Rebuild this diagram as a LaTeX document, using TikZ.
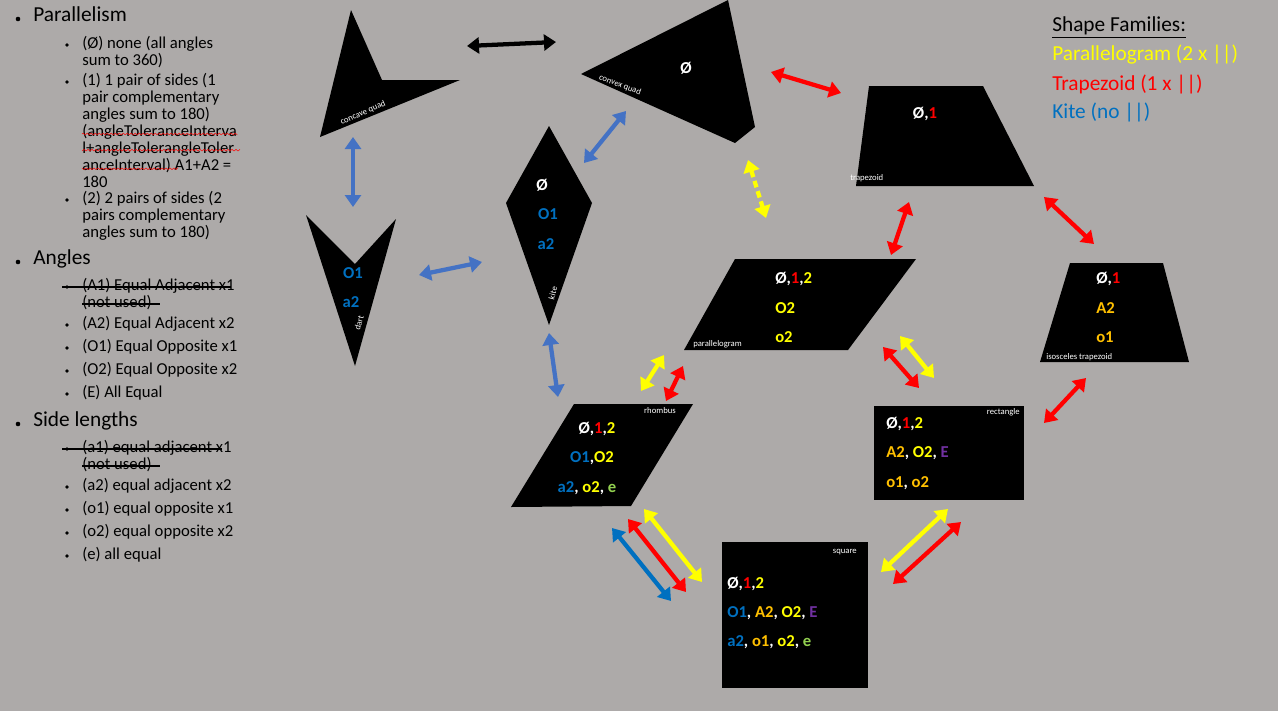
\documentclass[tikz,border=0pt]{standalone}
\usepackage{fontspec}
\setmainfont{Carlito}
\usetikzlibrary{arrows.meta,decorations.pathmorphing}
\definecolor{bg}{HTML}{ADAAA9}
\definecolor{cR}{HTML}{FF0000}
\definecolor{cY}{HTML}{FFFF00}
\definecolor{cB}{HTML}{0070C0}
\definecolor{cO}{HTML}{FFC000}
\definecolor{cP}{HTML}{7030A0}
\definecolor{cG}{HTML}{92D050}
\definecolor{aB}{HTML}{4472C4}
\tikzset{
  dbl/.style={line width=3.2pt,{Triangle[length=9pt,width=12pt]}-{Triangle[length=9pt,width=12pt]}},
  shp/.style={fill=black},
  lbl/.style={text=white,font=\fontsize{12.5}{14}\bfseries\selectfont,inner sep=0pt},
  tiny/.style={text=white,font=\fontsize{6.5}{7}\selectfont,inner sep=0pt},
  lst/.style={anchor=north west,align=left,inner sep=0pt,font=\fontsize{12.5}{12.75}\selectfont},
  head/.style={anchor=north west,inner sep=0pt,font=\fontsize{16}{18}\selectfont},
  leg/.style={anchor=west,inner sep=0pt,font=\fontsize{16}{18}\selectfont}
}
\begin{document}
\begin{tikzpicture}[x=0.75pt,y=-0.75pt]
\fill[bg] (0,0) rectangle (1278,711);
\useasboundingbox (0,0) rectangle (1278,711);
% left list
\node[head] (h1) at (33,6) {Parallelism};
\node[head] (h2) at (33,249) {Angles};
\node[head] (h3) at (33,411) {Side lengths};
\foreach \y in {9,252,414}{\fill (18,\y+10) circle (2.3);}
\node[lst] (p1) at (82,36) {(Ø) none (all angles\\sum to 360)};
\node[lst] (p2) at (82,73) {(1) 1 pair of sides (1\\pair complementary\\angles sum to 180)\\(angleToleranceInterva\\l+angleTolerangleToler\\anceInterval) A1+A2 =\\180};
\node[lst] (p3) at (82,191) {(2) 2 pairs of sides (2\\pairs complementary\\angles sum to 180)};
\draw[cR,decorate,decoration={snake,amplitude=0.6pt,segment length=3pt}] (82,134)--(237,134) (82,151)--(240,151) (82,168)--(178,168);
\node[lst] (q1) at (82,278) {(A1) Equal Adjacent x1\\(not used)};
\node[lst] (q2) at (82,316) {(A2) Equal Adjacent x2};
\node[lst] (q3) at (82,339) {(O1) Equal Opposite x1};
\node[lst] (q4) at (82,362) {(O2) Equal Opposite x2};
\node[lst] (q5) at (82,385) {(E) All Equal};
\node[lst] (r1) at (82,440) {(a1) equal adjacent x1\\(not used)};
\node[lst] (r2) at (82,478) {(a2) equal adjacent x2};
\node[lst] (r3) at (82,501) {(o1) equal opposite x1};
\node[lst] (r4) at (82,524) {(o2) equal opposite x2};
\node[lst] (r5) at (82,547) {(e) all equal};
\draw[line width=0.8pt] (62,287)--(231,287) (82,304)--(160,304) (62,449)--(222,449) (82,466)--(160,466);
\foreach \y in {45,82,200,287,325,348,371,394,449,487,510,533,556}{\fill (67,\y) circle (1.9);}
% legend
\node[leg] (l0) at (1052,26) {Shape Families:};
\draw[line width=0.8pt] (l0.south west)++(0,2)--([yshift=-1.5pt]l0.south east);
\node[leg,text=cY] (l1) at (1052,55) {Parallelogram (2 x ||)};
\node[leg,text=cR] (l2) at (1052,84) {Trapezoid (1 x ||)};
\node[leg,text=cB] (l3) at (1052,112) {Kite (no ||)};
% shapes
\fill[shp] (351,10)--(382,80)--(460,80)--(320,137)--cycle;
\node[tiny,rotate=24] (concave) at (363,113) {concave quad};
\fill[shp] (581,74)--(728,0)--(755,127)--(735,143)--cycle;
\node[lbl] (cvx) at (686,68) {Ø};
\node[tiny,rotate=-21] (convex) at (620,85) {convex quad};
\fill[shp] (306,215)--(355,264)--(396,219)--(355,366)--cycle;
\node[lbl,text=cB] (dO) at (353,273) {O1};
\node[lbl,text=cB] (da) at (351,302) {a2};
\node[tiny,rotate=75] (dart) at (359,323) {dart};
\fill[shp] (549,126)--(592,203)--(549,325)--(506,203)--cycle;
\node[lbl] (k0) at (542,185) {Ø};
\node[lbl,text=cB] (k1) at (548,214) {O1};
\node[lbl,text=cB] (k2) at (546,244) {a2};
\node[tiny,rotate=75] (kite) at (553,293) {kite};
\fill[shp] (869,86)--(983,86)--(1034,186)--(856,186)--cycle;
\node[lbl] (t0) at (925,114) {Ø,\textcolor{cR}{1}};
\node[tiny,anchor=west] (trap) at (850,178) {trapezoid};
\fill[shp] (735,259)--(916,259)--(848,350)--(684,350)--cycle;
\node[lbl,anchor=west] (pa0) at (775,279) {Ø,\textcolor{cR}{1},\textcolor{cY}{2}};
\node[lbl,anchor=west,text=cY] (pa1) at (775,308) {O2};
\node[lbl,anchor=west,text=cY] (pa2) at (775,337) {o2};
\node[tiny,anchor=west] (para) at (693,344) {parallelogram};
\fill[shp] (1070,263)--(1163,263)--(1189,362)--(1040,362)--cycle;
\node[lbl,anchor=west] (i0) at (1096,279) {Ø,\textcolor{cR}{1}};
\node[lbl,anchor=west,text=cO] (i1) at (1096,308) {A2};
\node[lbl,anchor=west,text=cO] (i2) at (1096,337) {o1};
\node[tiny,anchor=west] (iso) at (1046,357) {isosceles trapezoid};
\fill[shp] (574,404)--(693,404)--(631,506)--(511,507)--cycle;
\node[lbl] (rh0) at (597,429) {Ø,\textcolor{cR}{1},\textcolor{cY}{2}};
\node[lbl] (rh1) at (592,458) {\textcolor{cB}{O1},\textcolor{cY}{O2}};
\node[lbl] (rh2) at (587,488) {\textcolor{cB}{a2}, \textcolor{cY}{o2}, \textcolor{cG}{e}};
\node[tiny] (rhomb) at (660,411) {rhombus};
\fill[shp] (874,406) rectangle (1024,500);
\node[lbl,anchor=west] (re0) at (886,424) {Ø,\textcolor{cR}{1},\textcolor{cY}{2}};
\node[lbl,anchor=west] (re1) at (886,453) {\textcolor{cO}{A2}, \textcolor{cY}{O2}, \textcolor{cP}{E}};
\node[lbl,anchor=west] (re2) at (886,483) {\textcolor{cO}{o1}, \textcolor{cO}{o2}};
\node[tiny,anchor=east] (rect) at (1020,412) {rectangle};
\fill[shp] (722,542) rectangle (868,688);
\node[lbl,anchor=west] (s0) at (727,584) {Ø,\textcolor{cR}{1},\textcolor{cY}{2}};
\node[lbl,anchor=west] (s1) at (727,613) {\textcolor{cB}{O1}, \textcolor{cO}{A2}, \textcolor{cY}{O2}, \textcolor{cP}{E}};
\node[lbl,anchor=west] (s2) at (727,642) {\textcolor{cB}{a2}, \textcolor{cO}{o1}, \textcolor{cY}{o2}, \textcolor{cG}{e}};
\node[tiny,anchor=east] (sq) at (857,552) {square};
% arrow end points
\coordinate (a1) at (467,46); \coordinate (a2) at (556,42);
\coordinate (b1) at (353,137); \coordinate (b2) at (353,207);
\coordinate (c1) at (419,275); \coordinate (c2) at (482,262);
\coordinate (d1) at (584,163); \coordinate (d2) at (626,111);
\coordinate (e1) at (549,333); \coordinate (e2) at (558,397);
\coordinate (f1) at (771,72); \coordinate (f2) at (841,93);
\coordinate (g1) at (748,160); \coordinate (g2) at (766,218);
\coordinate (h1a) at (909,202); \coordinate (h2a) at (891,255);
\coordinate (i1a) at (1044,197); \coordinate (i2a) at (1094,244);
\coordinate (j1) at (664,355); \coordinate (j2) at (641,391);
\coordinate (k1a) at (683,366); \coordinate (k2a) at (666,401);
\coordinate (m1) at (900,336); \coordinate (m2) at (934,378);
\coordinate (n1) at (883,347); \coordinate (n2) at (919,388);
\coordinate (o1a) at (1086,378); \coordinate (o2a) at (1044,423);
\coordinate (p1a) at (612,528); \coordinate (p2a) at (671,601);
\coordinate (q1a) at (628,519); \coordinate (q2a) at (686,592);
\coordinate (r1a) at (644,509); \coordinate (r2a) at (702,582);
\coordinate (s1a) at (948,509); \coordinate (s2a) at (881,572);
\coordinate (t1a) at (961,522); \coordinate (t2a) at (893,584);
\draw[dbl,black] (a1)--(a2);
\draw[dbl,aB] (b1)--(b2);
\draw[dbl,aB] (c1)--(c2);
\draw[dbl,aB] (d1)--(d2);
\draw[dbl,aB] (e1)--(e2);
\draw[dbl,cR] (f1)--(f2);
\draw[dbl,cY,dash pattern=on 5pt off 3pt] (g1)--(g2);
\draw[dbl,cR] (h1a)--(h2a);
\draw[dbl,cR] (i1a)--(i2a);
\draw[dbl,cY] (j1)--(j2);
\draw[dbl,cR] (k1a)--(k2a);
\draw[dbl,cY] (m1)--(m2);
\draw[dbl,cR] (n1)--(n2);
\draw[dbl,cR] (o1a)--(o2a);
\draw[dbl,cB] (p1a)--(p2a);
\draw[dbl,cR] (q1a)--(q2a);
\draw[dbl,cY] (r1a)--(r2a);
\draw[dbl,cY] (s1a)--(s2a);
\draw[dbl,cR] (t1a)--(t2a);
\end{tikzpicture}
\end{document}
